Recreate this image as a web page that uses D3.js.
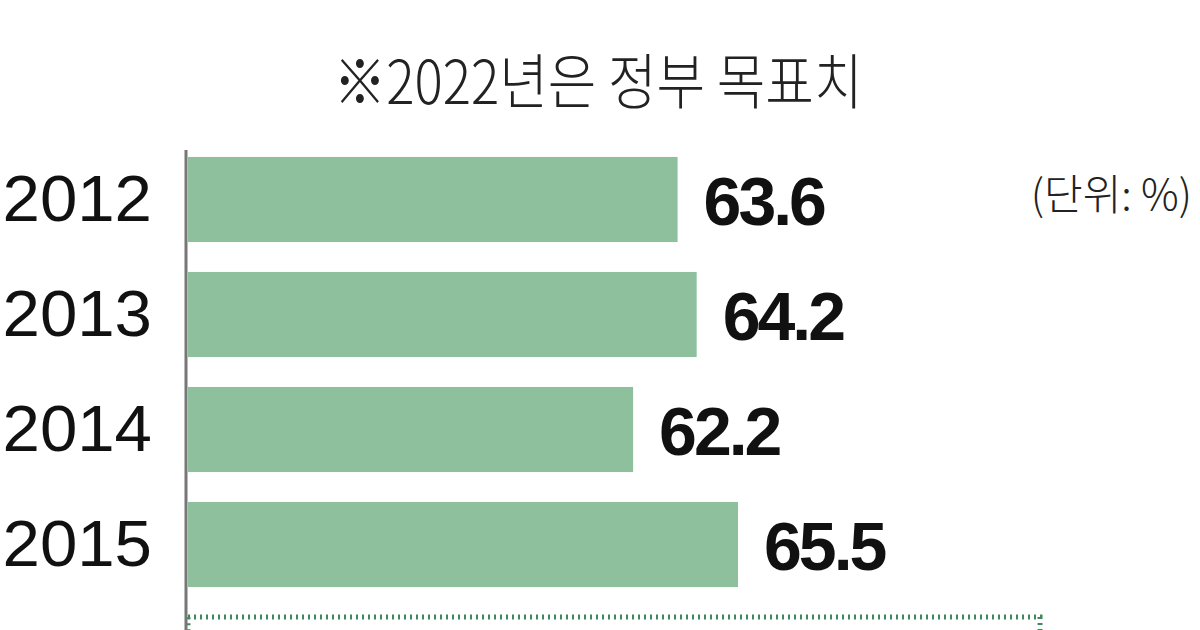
<!DOCTYPE html>
<html><head><meta charset="utf-8">
<script src="https://cdn.jsdelivr.net/npm/d3@7"></script>
<style>body{margin:0;background:#fff;overflow:hidden}</style>
</head><body>
<svg id="c" width="1200" height="630"></svg>
<script>
var years = ['2012', '2013', '2014', '2015', '2022'];
var values = [63.6, 64.2, 62.2, 65.5, 75.0];
var target = '2022';

var svg = d3.select('#c');
var font = "'Liberation Sans', 'Noto Sans CJK KR', sans-serif";

var x = d3.scaleLinear().domain([48.2, 80]).range([188, 1199]);
var y = d3.scaleBand().domain(years).range([142, 717]).paddingInner(0.26).paddingOuter(0.13);

svg.append('text').attr('x', 598).attr('y', 104).attr('text-anchor', 'middle')
    .attr('font-family', "'Noto Sans CJK KR', sans-serif").attr('font-size', 60)
    .attr('font-weight', 300)
    .attr('transform', 'translate(598,0) scale(0.88,1) translate(-598,0)')
    .attr('fill', '#222').text('※2022년은 정부 목표치');

svg.append('text').attr('x', 1192).attr('y', 210).attr('text-anchor', 'end')
    .attr('font-family', "'Noto Sans CJK KR', sans-serif").attr('font-size', 42)
    .attr('font-weight', 300)
    .attr('fill', '#222').text('(단위: %)');

var data = years.map(function (d, i) { return {year: d, value: values[i]}; });

svg.selectAll('rect.bar').data(data).enter().append('rect')
    .attr('class', 'bar')
    .attr('x', x(48.2))
    .attr('y', function (d) { return y(d.year); })
    .attr('width', function (d) { return x(d.value) - x(48.2); })
    .attr('height', y.bandwidth())
    .attr('fill', function (d) { return d.year === target ? '#fff' : '#8fc09e'; })
    .attr('stroke', function (d) { return d.year === target ? '#3f8a5c' : 'none'; })
    .attr('stroke-width', 5)
    .attr('stroke-dasharray', function (d) { return d.year === target ? '2,4' : null; });

svg.append('line').attr('x1', 186).attr('x2', 186).attr('y1', 150).attr('y2', 630)
    .attr('stroke', '#777').attr('stroke-width', 3);

svg.selectAll('text.year').data(data).enter().append('text')
    .attr('class', 'year')
    .attr('x', 152)
    .attr('y', function (d) { return y(d.year) + y.bandwidth() / 2 + 22; })
    .attr('text-anchor', 'end')
    .attr('font-family', font).attr('font-size', 64)
    .attr('transform', function (d) { var cy = y(d.year); return 'translate(152,' + cy + ') scale(1.05,1) translate(-152,' + (-cy) + ')'; })
    .attr('fill', '#111').text(function (d) { return d.year; });

svg.selectAll('text.val').data(data).enter().append('text')
    .attr('class', 'val')
    .attr('x', function (d) { return x(d.value) + 26; })
    .attr('y', function (d) { return y(d.year) + y.bandwidth() / 2 + 25; })
    .attr('font-family', font).attr('font-size', 68).attr('font-weight', 'bold')
    .attr('letter-spacing', -3)
    .attr('fill', '#111').text(function (d) { return d.value.toFixed(1); });
</script>
</body></html>
